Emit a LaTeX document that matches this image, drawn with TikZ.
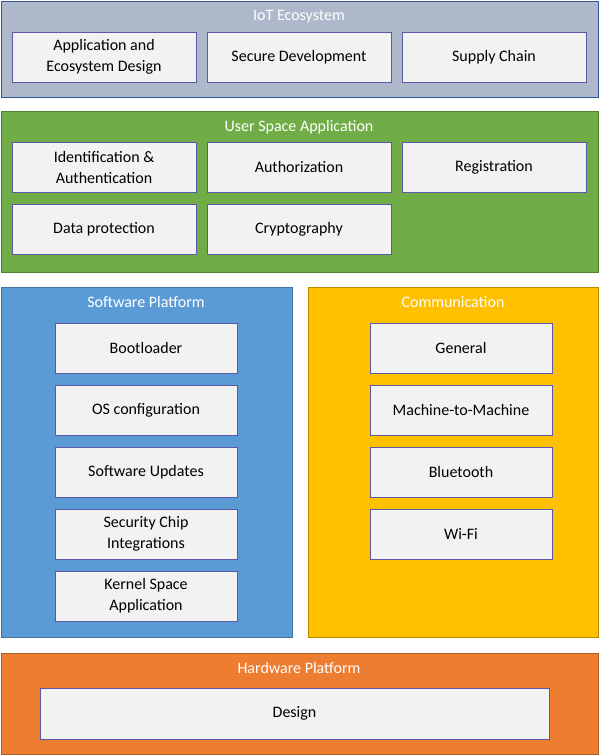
\documentclass[tikz,border=0pt]{standalone}
\usepackage{fontspec}
\setmainfont{Carlito}
\usetikzlibrary{positioning}
\definecolor{cIoT}{HTML}{ADB9CA}
\definecolor{cIoTb}{HTML}{2F5597}
\definecolor{cUser}{HTML}{70AD47}
\definecolor{cUserb}{HTML}{507E32}
\definecolor{cSoft}{HTML}{5B9BD5}
\definecolor{cSoftb}{HTML}{41719C}
\definecolor{cComm}{HTML}{FFC000}
\definecolor{cCommb}{HTML}{BC8C00}
\definecolor{cHard}{HTML}{ED7D31}
\definecolor{cHardb}{HTML}{AE5A21}
\tikzset{
    tsLayer/.style={draw=#1b, fill=#1, line width=1pt},
    tsTitle/.style={text=white, font=\fontsize{16}{19}\selectfont},
    tsItem/.style={draw=gray!70!blue, fill=gray!10, line width=0.8pt,
        minimum width=184pt, minimum height=50pt, align=center,
        inner sep=2pt, font=\fontsize{16}{21}\selectfont}
}
\begin{document}
\begin{tikzpicture}[x=1pt, y=-1pt]
        \useasboundingbox (0,0) rectangle (600,756);

        % Layers
        \draw[tsLayer=cIoT] (1,1) rectangle (598,97);
        \draw[tsLayer=cUser] (1,111) rectangle (598,272);
        \draw[tsLayer=cSoft] (1,287) rectangle (292,637);
        \draw[tsLayer=cComm] (308,287) rectangle (598,637);
        \draw[tsLayer=cHard] (1,653) rectangle (598,754);

        \node[tsTitle] (tIoT) at (299,17) {IoT Ecosystem};
        \node[tsTitle] (tUser) at (299,127) {User Space Application};
        \node[tsTitle] (tSoft) at (146,302) {Software Platform};
        \node[tsTitle] (tComm) at (453,302) {Communication};
        \node[tsTitle] (tHard) at (299,668) {Hardware Platform};

        % IoT ecosystem
        \node[tsItem] (appDesign) at (104,57) {Application and\\Ecosystem Design};
        \node[tsItem] (secDev) at (299,57) {Secure Development};
        \node[tsItem] (supply) at (494,57) {Supply Chain};

        % User space
        \node[tsItem] (ident) at (104,167) {Identification \&\\Authentication};
        \node[tsItem] (author) at (299,167) {Authorization};
        \node[tsItem] (regist) at (494,167) {Registration};
        \node[tsItem] (dataProt) at (104,229) {Data protection};
        \node[tsItem] (crypto) at (299,229) {Cryptography};

        % Software platform
        \node[tsItem, minimum width=182pt] (boot) at (146,348) {Bootloader};
        \node[tsItem, minimum width=182pt] (osConf) at (146,410) {OS configuration};
        \node[tsItem, minimum width=182pt] (swUpd) at (146,472) {Software Updates};
        \node[tsItem, minimum width=182pt] (secChip) at (146,534) {Security Chip\\Integrations};
        \node[tsItem, minimum width=182pt] (kernel) at (146,596) {Kernel Space\\Application};

        % Communication
        \node[tsItem, minimum width=182pt] (general) at (461,348) {General};
        \node[tsItem, minimum width=182pt] (m2m) at (461,410) {Machine-to-Machine};
        \node[tsItem, minimum width=182pt] (bt) at (461,472) {Bluetooth};
        \node[tsItem, minimum width=182pt] (wifi) at (461,534) {Wi-Fi};

        % Hardware
        \node[tsItem, minimum width=509pt, minimum height=51pt] (design) at (294.5,713.5) {Design};

    \end{tikzpicture}
\end{document}
